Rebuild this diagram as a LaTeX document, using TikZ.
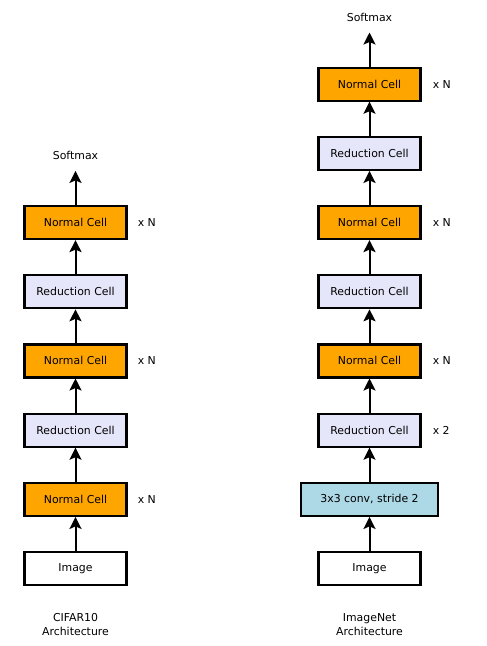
\documentclass[tikz,border=0pt]{standalone}
\usepackage{fontspec}
\setmainfont{DejaVu Sans}
\usetikzlibrary{arrows.meta, positioning}

\definecolor{normalcol}{HTML}{FFA500}
\definecolor{reductioncol}{HTML}{E6E6FA}
\definecolor{convcol}{HTML}{ADD8E6}

\begin{document}
\begin{tikzpicture}[x=1pt, y=-1pt,
    font=\fontsize{10.9}{14}\selectfont,
    node distance=34pt,
    cell/.style={draw, line width=2.2pt, minimum width=102pt, minimum height=33pt, inner sep=0pt},
    imagecell/.style={cell, fill=white},
    normalcell/.style={cell, fill=normalcol},
    reductioncell/.style={cell, fill=reductioncol},
    convcell/.style={cell, fill=convcol, minimum width=137pt},
    softmax/.style={inner xsep=0pt, inner ysep=11pt},
    repeats/.style={inner sep=0pt, anchor=west},
    caption/.style={inner sep=0pt, align=center},
    flow/.style={line width=2pt, -{Stealth[length=12pt, width=12pt, inset=2.5pt]}}
]

    % margini del disegno
    \useasboundingbox (0,0) rectangle (487,646);

    % ==========================================
    % COLONNA SINISTRA (CIFAR10)
    % ==========================================

    \node[imagecell] (cimg) at (75.5,568.5) {Image};
    \node[normalcell, above=of cimg] (cn1) {Normal Cell};
    \node[reductioncell, above=of cn1] (cr1) {Reduction Cell};
    \node[normalcell, above=of cr1] (cn2) {Normal Cell};
    \node[reductioncell, above=of cn2] (cr2) {Reduction Cell};
    \node[normalcell, above=of cr2] (cn3) {Normal Cell};
    \node[softmax, above=of cn3] (csm) {Softmax};

    % ripetizioni
    \node[repeats, right=10pt of cn1] (cn1x) {x N};
    \node[repeats, right=10pt of cn2] (cn2x) {x N};
    \node[repeats, right=10pt of cn3] (cn3x) {x N};

    % didascalia
    \node[caption, below=27pt of cimg] (ccap) {CIFAR10\\Architecture};

    \foreach \a/\b in {cimg/cn1, cn1/cr1, cr1/cn2, cn2/cr2, cr2/cn3, cn3/csm}
        \draw[flow] (\a) -- (\b);

    % ==========================================
    % COLONNA DESTRA (ImageNet)
    % ==========================================

    \node[imagecell] (iimg) at (369.5,568.5) {Image};
    \node[convcell, above=of iimg] (iconv) {3x3 conv, stride 2};
    \node[reductioncell, above=of iconv] (ir1) {Reduction Cell};
    \node[normalcell, above=of ir1] (in1) {Normal Cell};
    \node[reductioncell, above=of in1] (ir2) {Reduction Cell};
    \node[normalcell, above=of ir2] (in2) {Normal Cell};
    \node[reductioncell, above=of in2] (ir3) {Reduction Cell};
    \node[normalcell, above=of ir3] (in3) {Normal Cell};
    \node[softmax, above=of in3] (ism) {Softmax};

    % ripetizioni
    \node[repeats, right=11pt of ir1] (ir1x) {x 2};
    \node[repeats, right=11pt of in1] (in1x) {x N};
    \node[repeats, right=11pt of in2] (in2x) {x N};
    \node[repeats, right=11pt of in3] (in3x) {x N};

    % didascalia
    \node[caption, below=27pt of iimg] (icap) {ImageNet\\Architecture};

    \foreach \a/\b in {iimg/iconv, iconv/ir1, ir1/in1, in1/ir2, ir2/in2, in2/ir3, ir3/in3, in3/ism}
        \draw[flow] (\a) -- (\b);

\end{tikzpicture}
\end{document}
